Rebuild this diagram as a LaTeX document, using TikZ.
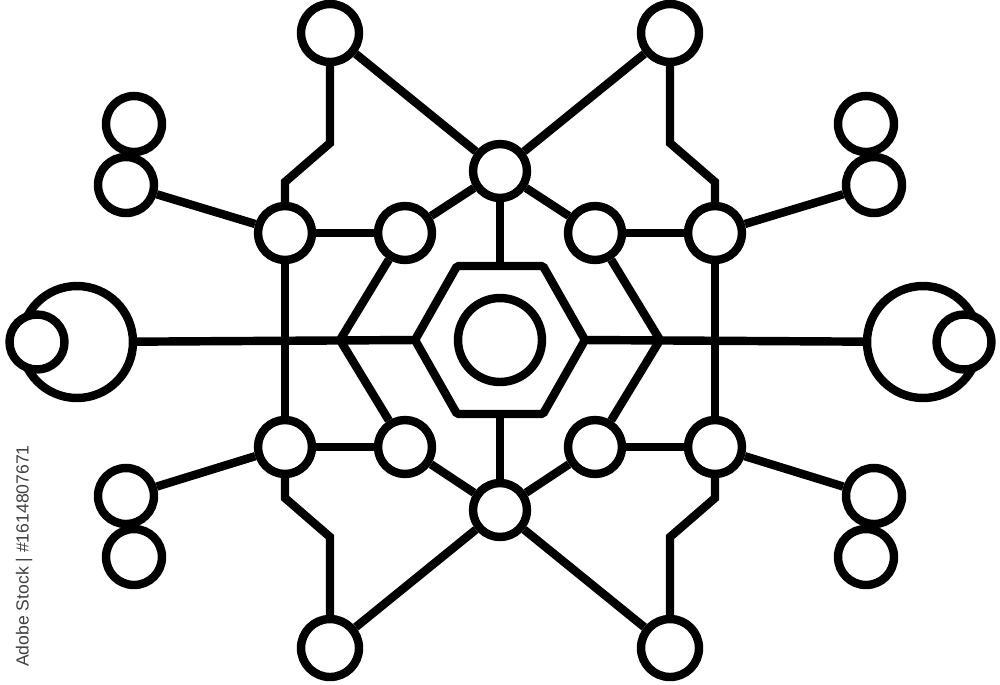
\documentclass[tikz,border=0pt]{standalone}
\usepackage{fontspec}
\setsansfont{Liberation Sans}
\usepackage{tikz}
\usetikzlibrary{positioning}
\tikzstyle{vertex}=[circle,draw,fill=white,line width=4.8pt,inner sep=0pt,minimum size=1.08cm]
\tikzset{wire/.style={line width=4.8pt}}

\begin{document}
\begin{tikzpicture}[x=0.02cm, y=-0.02cm]
    \useasboundingbox (0,0) rectangle (1000,684);

    \foreach \pos/\name in {{(415,340)/hl}, {(457,266)/htl}, {(543,266)/htr}, {(585,340)/hr},
        {(543,414)/hbr}, {(457,414)/hbl}, {(500,266)/ht}, {(500,414)/hb}, {(340,340)/cl}, {(660,340)/cr}}
        \node[coordinate] (\name) at \pos {};

    \node[vertex,minimum size=1.68cm] (hub) at (500,340) {};
    \draw[wire,rounded corners=1pt] (hl) -- (htl) -- (htr) -- (hr) -- (hbr) -- (hbl) -- cycle;

    \foreach \pos/\name in {{(500,171)/nt}, {(500,510)/nb}, {(405,233)/ia}, {(595,233)/ib}, {(405,447)/ic}, {(595,447)/id},
        {(285,233)/oa}, {(715,233)/ob}, {(285,447)/oc}, {(715,447)/od}}
        \node[vertex] (\name) at \pos {};

    \foreach \pos/\name in {{(330,33)/ea}, {(670,33)/eb}, {(330,648)/ec}, {(670,648)/ed}}
        \node[vertex,minimum size=1.16cm] (\name) at \pos {};

    \foreach \pos/\name in {{(134,124)/au}, {(126,185)/al}, {(866,124)/bu}, {(874,185)/bl},
        {(126,496)/cu}, {(134,557)/cd}, {(874,496)/du}, {(866,557)/dd}}
        \node[vertex,minimum size=1.12cm] (\name) at \pos {};

    \node[vertex,minimum size=2.24cm] (bigl) at (77,342) {};
    \node[vertex,minimum size=2.24cm] (bigr) at (923,342) {};
    \node[vertex,minimum size=1.1cm] (sml) at (37,342) {};
    \node[vertex,minimum size=1.1cm] (smr) at (964,342) {};

    \draw[wire] (bigl) -- (hl);
    \draw[wire] (hr) -- (bigr);
    \draw[wire] (ht) -- (nt);
    \draw[wire] (hb) -- (nb);

    \draw[wire] (ia) -- (cl) -- (ic);
    \draw[wire] (ib) -- (cr) -- (id);

    \draw[wire] (oa) -- (ia);
    \draw[wire] (ia) -- (nt);
    \draw[wire] (nt) -- (ib);
    \draw[wire] (ib) -- (ob);
    \draw[wire] (oc) -- (ic);
    \draw[wire] (ic) -- (nb);
    \draw[wire] (nb) -- (id);
    \draw[wire] (id) -- (od);

    \draw[wire] (oa) -- (oc);
    \draw[wire] (ob) -- (od);

    \draw[wire] (nt) -- (ea);
    \draw[wire] (nt) -- (eb);
    \draw[wire] (nb) -- (ec);
    \draw[wire] (nb) -- (ed);

    \draw[wire] (ea) -- (330,143) -- (285,182) -- (oa);
    \draw[wire] (eb) -- (670,143) -- (715,182) -- (ob);
    \draw[wire] (ec) -- (330,537) -- (285,498) -- (oc);
    \draw[wire] (ed) -- (670,537) -- (715,498) -- (od);

    \draw[wire] (oa) -- (al);
    \draw[wire] (ob) -- (bl);
    \draw[wire] (oc) -- (cu);
    \draw[wire] (od) -- (du);

    \node[rotate=90,text=black!75,font=\sffamily\fontsize{10pt}{12pt}\selectfont] (stock) at (24,556) {Adobe Stock | \#1614807671};

\end{tikzpicture}
\end{document}
